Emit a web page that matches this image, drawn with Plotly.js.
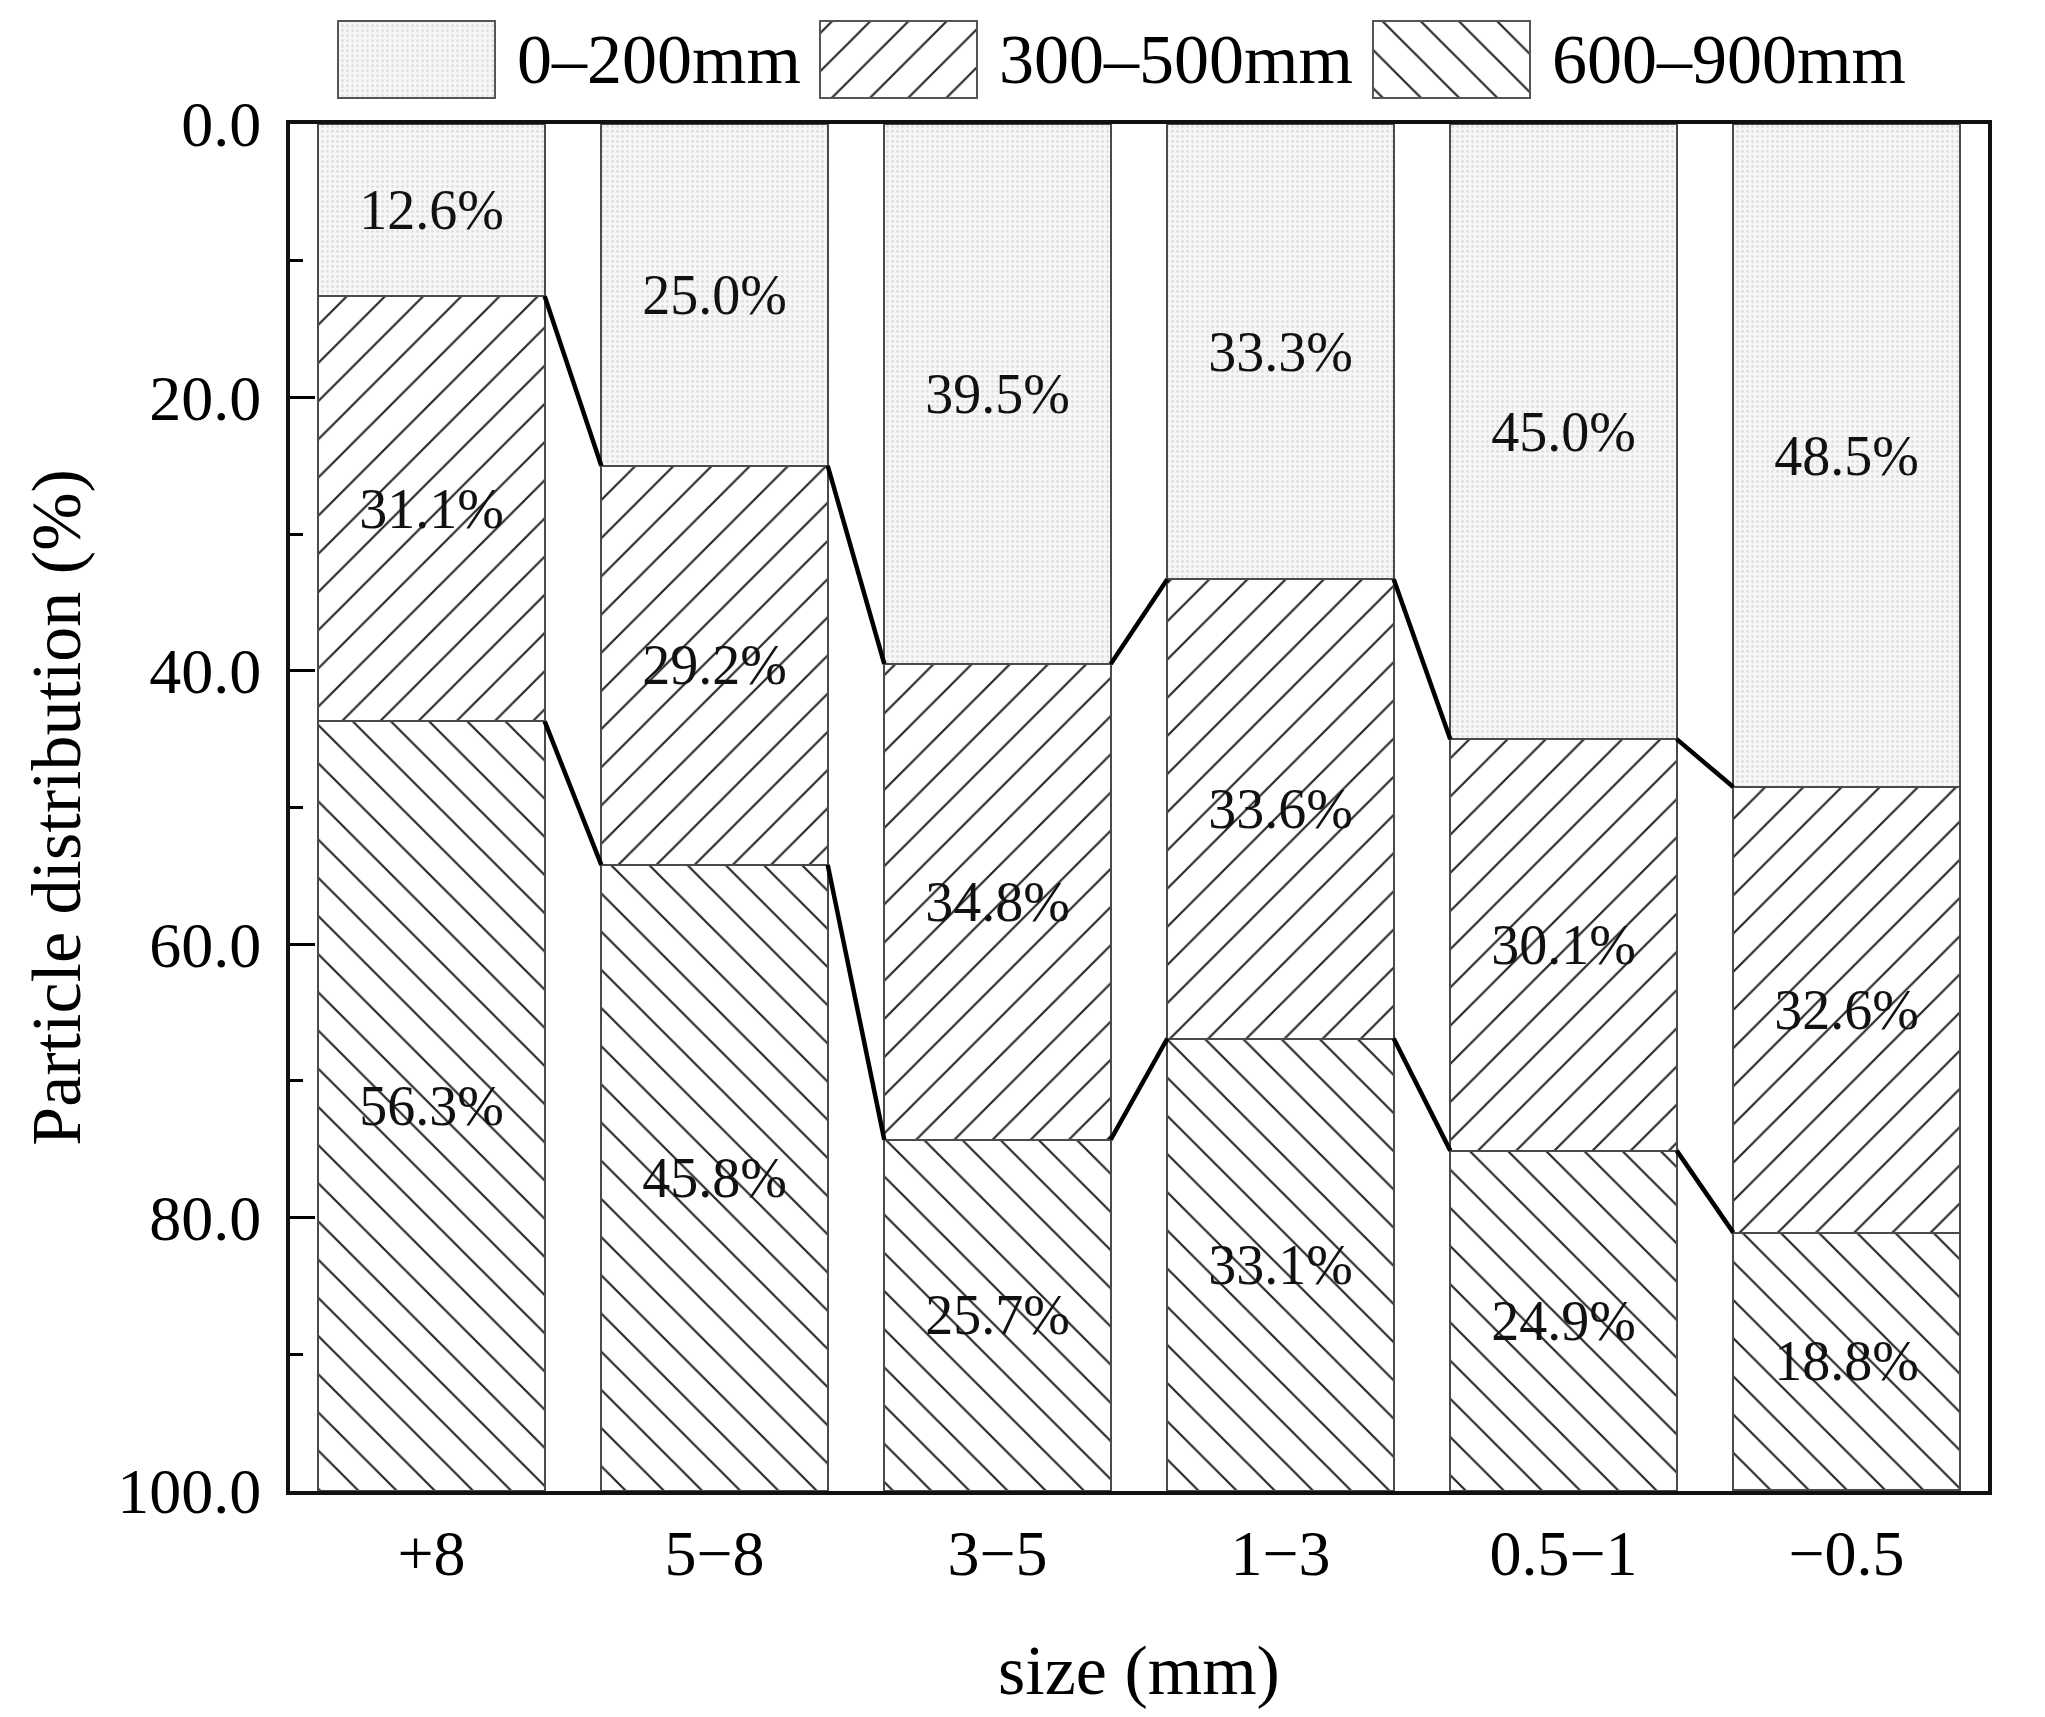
<!DOCTYPE html>
<html>
<head>
<meta charset="utf-8">
<script src="https://cdn.plot.ly/plotly-3.0.1.min.js"></script>
<style>
  html, body { margin: 0; padding: 0; background: #ffffff; }
  #chart { width: 2045px; height: 1717px; }
</style>
</head>
<body>
<div id="chart"></div>
<script>
// ---- data ----
var categories = ['+8', '5\u22128', '3\u22125', '1\u22123', '0.5\u22121', '\u22120.5'];
var seriesNames = ['0\u2013200mm', '300\u2013500mm', '600\u2013900mm'];
var fine = [12.6, 25.0, 39.5, 33.3, 45.0, 48.5];     // 0–200mm
var medium = [31.1, 29.2, 34.8, 33.6, 30.1, 32.6];   // 300–500mm
var coarse = [56.3, 45.8, 25.7, 33.1, 24.9, 18.8];   // 600–900mm
var yTickVals = [0, 20, 40, 60, 80, 100];
var yTickText = ['0.0', '20.0', '40.0', '60.0', '80.0', '100.0'];

// ---- style / layout constants ----
var W = 2045, H = 1717;
var FONT = 'Liberation Serif';
var BAR_W = 0.8;
var PLOT = { left: 290, right: 1988, top: 124, bottom: 1491 };
var LEG = { x: [338, 820, 1373], boxW: 157, top: 21, bottom: 98, textGap: 20 };

var patterns = [
  { shape: '.', size: 5, solidity: 0.25, fgcolor: '#dedede', bgcolor: '#f7f7f7' },
  { shape: '/', size: 27, solidity: 0.08, fgcolor: '#262626', bgcolor: '#ffffff' },
  { shape: '\\', size: 27, solidity: 0.08, fgcolor: '#262626', bgcolor: '#ffffff' }
];
var seriesValues = [fine, medium, coarse];

var idx = categories.map(function (c, i) { return i; });
var traces = [];

seriesValues.forEach(function (vals, k) {
  traces.push({
    type: 'bar',
    name: seriesNames[k],
    x: idx,
    y: vals,
    width: BAR_W,
    text: vals.map(function (v) { return v.toFixed(1) + '%'; }),
    textposition: 'inside',
    insidetextanchor: 'middle',
    textangle: 0,
    constraintext: 'none',
    textfont: { family: FONT, size: 56, color: '#111111' },
    marker: {
      color: patterns[k].bgcolor,
      line: { color: '#4a4a4a', width: 2 },
      pattern: patterns[k]
    },
    showlegend: false,
    hoverinfo: 'skip'
  });
});

// connector lines between bars at stack boundaries
var cum1 = fine.slice();
var cum2 = fine.map(function (v, i) { return v + medium[i]; });
[cum1, cum2].forEach(function (b) {
  var xs = [], ys = [];
  for (var i = 0; i < b.length - 1; i++) {
    xs.push(i + BAR_W / 2, i + 1 - BAR_W / 2, null);
    ys.push(b[i], b[i + 1], null);
  }
  traces.push({
    type: 'scatter', mode: 'lines', x: xs, y: ys,
    line: { color: '#000000', width: 4.5 },
    showlegend: false, hoverinfo: 'skip', connectgaps: false
  });
});

// custom legend swatches (large pattern boxes) on a separate axis pair
var annotations = [];
seriesNames.forEach(function (nm, k) {
  traces.push({
    type: 'bar', orientation: 'h',
    x: [LEG.boxW], base: [LEG.x[k]], y: [0], width: 1,
    xaxis: 'x2', yaxis: 'y2',
    marker: {
      color: patterns[k].bgcolor,
      line: { color: '#555555', width: 2.5 },
      pattern: patterns[k]
    },
    showlegend: false, hoverinfo: 'skip'
  });
  annotations.push({
    xref: 'x2', yref: 'y2', x: LEG.x[k] + LEG.boxW + LEG.textGap, y: 0,
    xanchor: 'left', yanchor: 'middle', showarrow: false,
    text: nm, font: { family: FONT, size: 70, color: '#000000' }
  });
});

var legPad = 0.6;
var legH = (LEG.bottom - LEG.top) * (2 * legPad);
var legC = (LEG.top + LEG.bottom) / 2;

var layout = {
  width: W, height: H,
  margin: { l: 0, r: 0, t: 0, b: 0 },
  paper_bgcolor: '#ffffff', plot_bgcolor: '#ffffff',
  barmode: 'stack',
  showlegend: false,
  font: { family: FONT, color: '#000000' },
  xaxis: {
    domain: [PLOT.left / W, PLOT.right / W],
    range: [-0.5, 5.5],
    tickvals: idx, ticktext: categories,
    ticks: '', showgrid: false, zeroline: false,
    showline: true, mirror: true, linecolor: '#111111', linewidth: 4,
    tickfont: { family: FONT, size: 64, color: '#000000' },
    ticklabelstandoff: 3,
    title: { text: 'size (mm)', font: { family: FONT, size: 70, color: '#000000' }, standoff: 58 },
    fixedrange: true
  },
  yaxis: {
    domain: [1 - PLOT.bottom / H, 1 - PLOT.top / H],
    range: [100, 0],
    tickvals: yTickVals, ticktext: yTickText,
    ticks: 'inside', ticklen: 25, tickwidth: 3, tickcolor: '#000000',
    minor: { dtick: 10, tick0: 0, ticks: 'inside', ticklen: 13, tickwidth: 3, tickcolor: '#000000', showgrid: false },
    showgrid: false, zeroline: false,
    showline: true, mirror: true, linecolor: '#111111', linewidth: 4,
    tickfont: { family: FONT, size: 64, color: '#000000' },
    ticklabelstandoff: 12,
    title: { text: 'Particle distribution (%)', font: { family: FONT, size: 70, color: '#000000' }, standoff: 15 },
    fixedrange: true
  },
  xaxis2: {
    domain: [0, 1], range: [0, W], anchor: 'y2',
    visible: false, fixedrange: true
  },
  yaxis2: {
    domain: [1 - (legC + legH / 2) / H, 1 - (legC - legH / 2) / H],
    range: [-legPad, legPad], anchor: 'x2',
    visible: false, fixedrange: true
  },
  annotations: annotations
};

Plotly.newPlot('chart', traces, layout, { displayModeBar: false, staticPlot: true });
</script>
</body>
</html>
